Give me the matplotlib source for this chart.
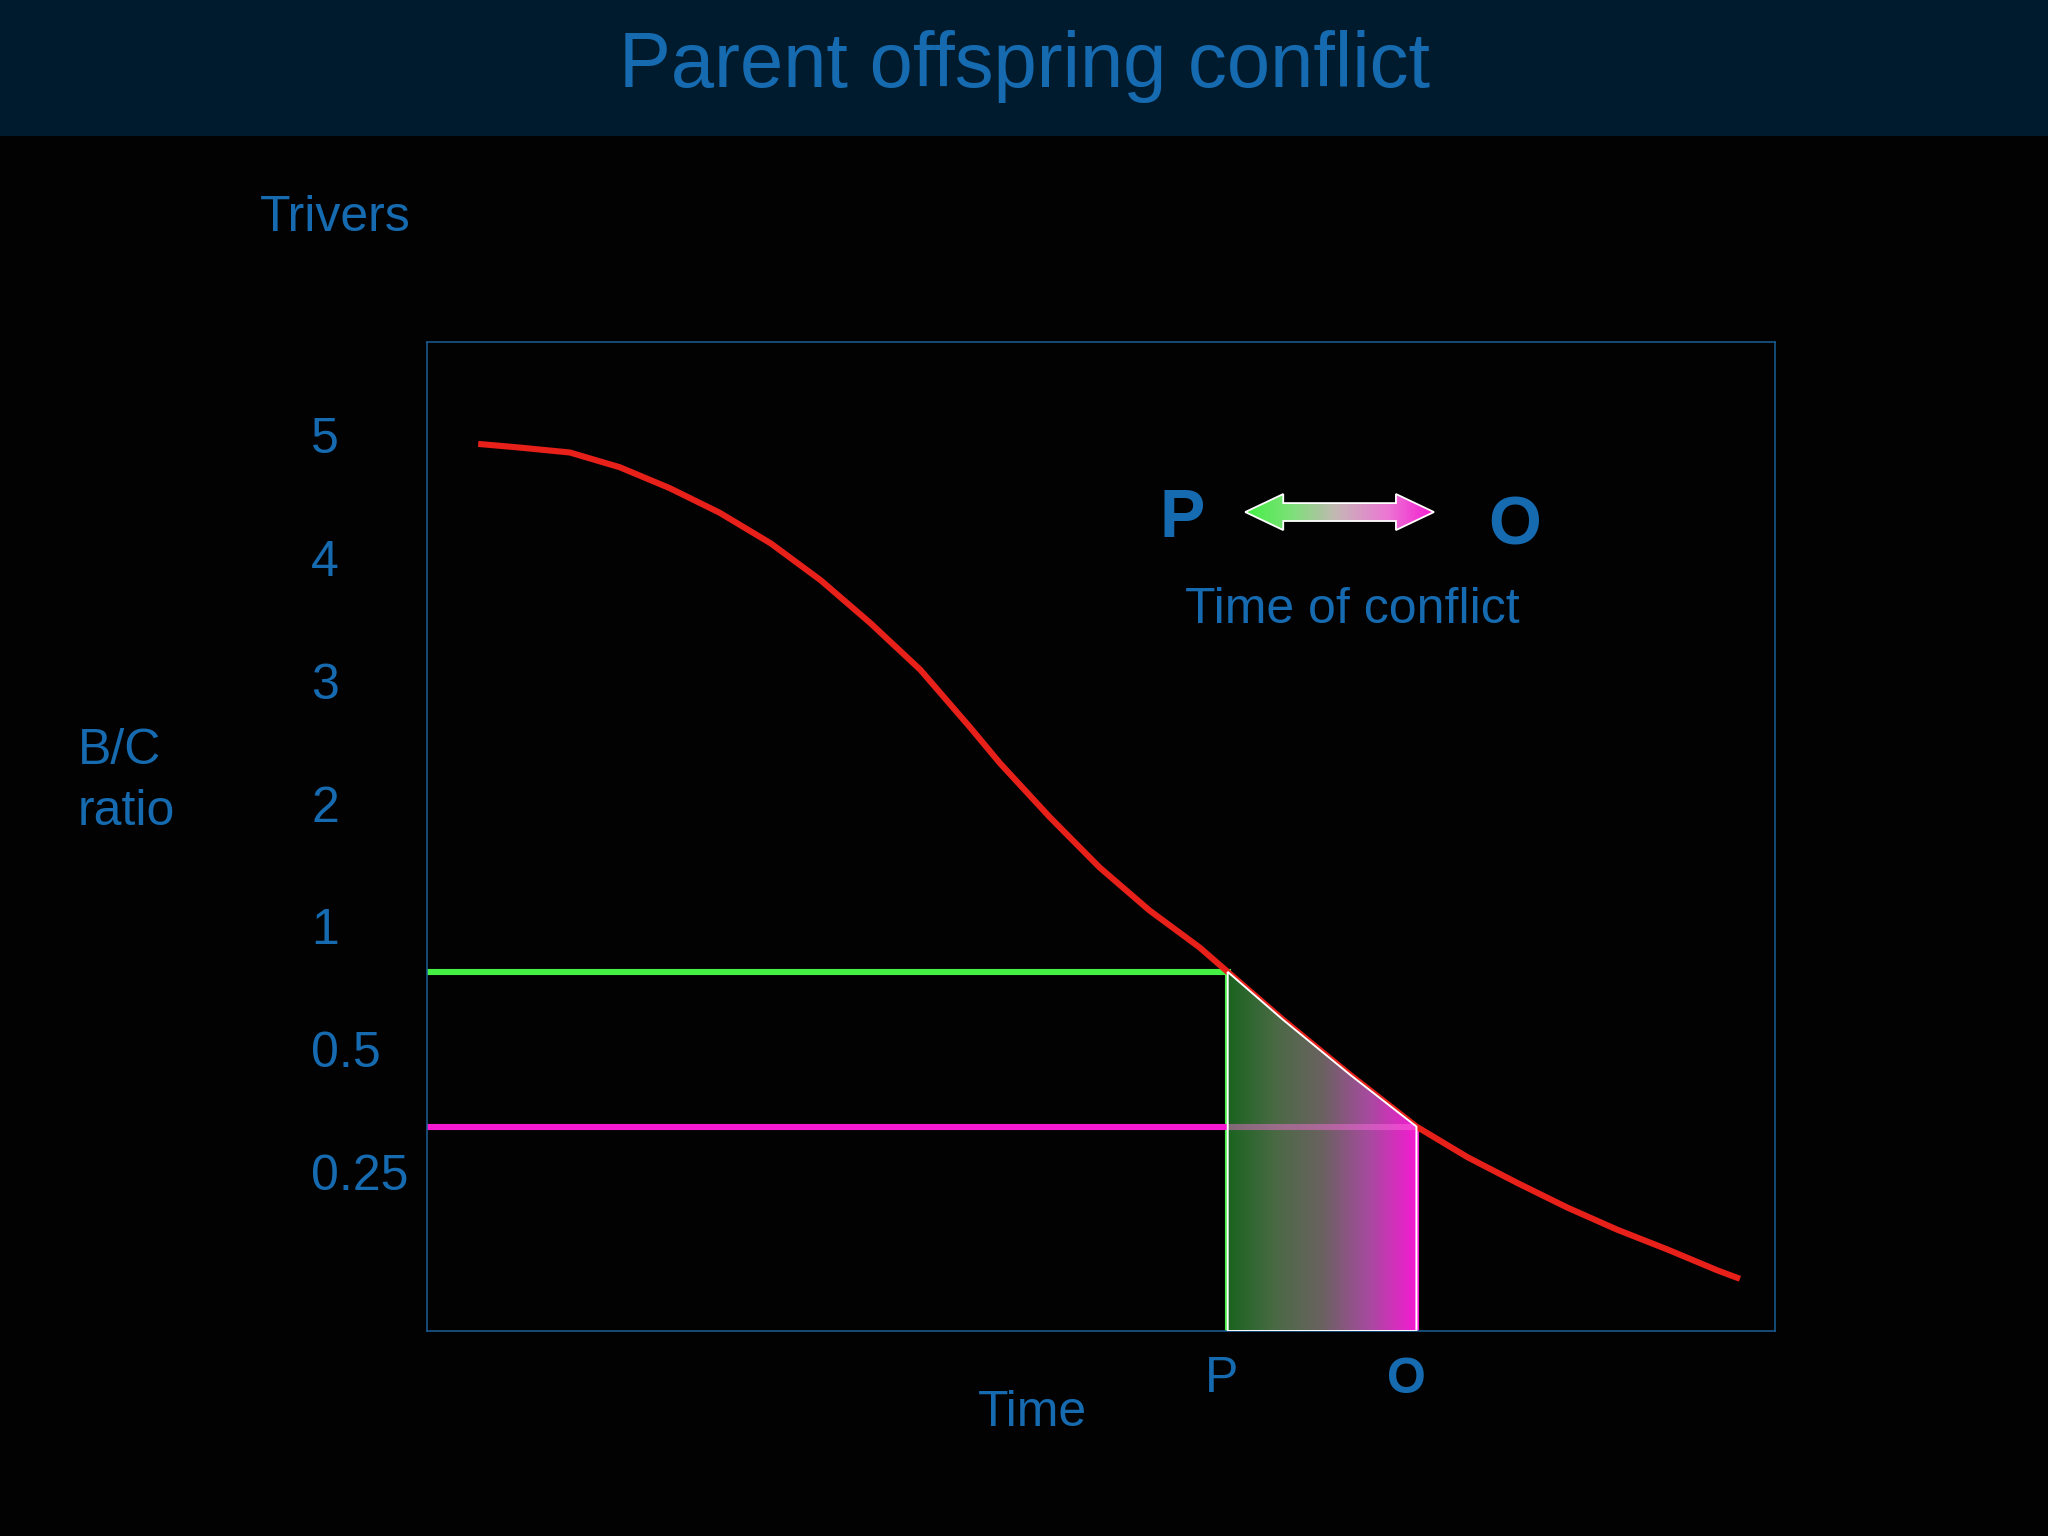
import numpy as np
import matplotlib.pyplot as plt
import matplotlib.transforms as mtransforms
from matplotlib.patches import Polygon, Rectangle
from matplotlib.colors import LinearSegmentedColormap

plt.rcParams['font.family'] = ['Liberation Sans', 'DejaVu Sans']

# B/C ratio curve, x = time (0-100 across the box), y = tick level
time = [3.8, 6.9, 10.6, 14.3, 18.0, 21.7, 25.5, 29.2, 32.9, 36.6, 40.3, 42.5,
        46.2, 49.9, 53.6, 57.3, 59.4, 63.5, 68.5, 73.4, 77.2, 80.9, 84.6, 88.3,
        92.0, 95.7, 97.4]
bc_level = [6.93, 6.90, 6.86, 6.74, 6.57, 6.37, 6.12, 5.82, 5.47, 5.09, 4.62, 4.33,
            3.89, 3.48, 3.13, 2.83, 2.63, 2.24, 1.79, 1.37, 1.12, 0.91, 0.71, 0.53,
            0.37, 0.20, 0.13]

tick_labels = ['0.25', '0.5', '1', '2', '3', '4', '5']
tick_levels = [1, 2, 3, 4, 5, 6, 7]

parent_time, parent_level = 59.4, 2.63
offspring_time, offspring_level = 73.4, 1.37

BLUE = '#166bb0'
RED = '#e8201a'
GREEN = '#44f044'
MAGENTA = '#f51ad2'

W, H = 2048, 1536
fig = plt.figure(figsize=(W / 100, H / 100), dpi=100, facecolor='#020203')


def fx(px):
    return px / W


def fy(py):
    return 1 - py / H


# header band
fig.add_artist(Rectangle((0, fy(136)), 1, 136 / H, transform=fig.transFigure,
                         facecolor='#011b2e', edgecolor='none', zorder=0))
fig.text(fx(1025), fy(87), 'Parent offspring conflict', ha='center', va='baseline',
         fontsize=56, color=BLUE)

ax = fig.add_axes([fx(427), fy(1331), 1348 / W, 989 / H])
ax.set_facecolor('#020203')
ymin, ymax = -0.295, 7.76
ax.set_xticks([])
ax.set_yticks([])
for s in ax.spines.values():
    s.set_color('#1a5e98')
    s.set_linewidth(1.1)

lw = 4.4
# parent / offspring threshold lines
ax.plot([0, parent_time, parent_time], [parent_level, parent_level, ymin],
        color=GREEN, lw=lw, solid_joinstyle='miter', solid_capstyle='butt', zorder=2)
ax.plot([0, parent_time], [offspring_level, offspring_level],
        color=MAGENTA, lw=lw, solid_capstyle='butt', zorder=2)
ax.plot([offspring_time, offspring_time], [ymin, offspring_level],
        color=MAGENTA, lw=lw, solid_capstyle='butt', zorder=2)

# red B/C curve
ax.plot(time, bc_level, color=RED, lw=lw, solid_capstyle='butt',
        solid_joinstyle='round', zorder=3)

# gradient region between P and O
t = np.array(time)
b = np.array(bc_level)
inside = (t > parent_time) & (t < offspring_time)
poly_pts = ([(parent_time, ymin), (parent_time, parent_level)]
            + list(zip(t[inside], b[inside]))
            + [(offspring_time, offspring_level), (offspring_time, ymin)])
region = Polygon(poly_pts, closed=True, facecolor='none', edgecolor='white',
                 lw=1.4, zorder=5)
ax.add_patch(region)
cmap_fill = LinearSegmentedColormap.from_list(
    'fill', ['#1a6420', '#4a6a44', '#6a6260', '#a84aa0', MAGENTA])
grad = np.linspace(0, 1, 256).reshape(1, -1)
im = ax.imshow(grad, cmap=cmap_fill, aspect='auto', origin='lower',
               extent=[parent_time, offspring_time, ymin, parent_level], zorder=4)
im.set_clip_path(region)
ax.plot([parent_time, offspring_time], [offspring_level, offspring_level],
        color='#ff70e0', lw=lw, alpha=0.45, solid_capstyle='butt', zorder=4.5)

# double-headed gradient arrow P <-> O
x0, x1, yc = 60.7, 74.7, 6.375
hl, hh, bh = 2.82, 0.147, 0.073
arrow_pts = [(x0, yc), (x0 + hl, yc + hh), (x0 + hl, yc + bh), (x1 - hl, yc + bh),
             (x1 - hl, yc + hh), (x1, yc), (x1 - hl, yc - hh), (x1 - hl, yc - bh),
             (x0 + hl, yc - bh), (x0 + hl, yc - hh)]
arrow = Polygon(arrow_pts, closed=True, facecolor='none', edgecolor='white',
                lw=1.3, zorder=6)
ax.add_patch(arrow)
cmap_arrow = LinearSegmentedColormap.from_list(
    'arrow', [GREEN, '#7ee07a', '#c8b4b8', '#ec78d4', MAGENTA])
im2 = ax.imshow(grad, cmap=cmap_arrow, aspect='auto', origin='lower',
                extent=[x0, x1, yc - hh, yc + hh], zorder=5.5)
im2.set_clip_path(arrow)
ax.set_xlim(0, 100)
ax.set_ylim(ymin, ymax)

# y tick labels
tick_tr = mtransforms.blended_transform_factory(fig.transFigure, ax.transData) + \
    mtransforms.ScaledTranslation(0, -0.18, fig.dpi_scale_trans)
for lev, lab in zip(tick_levels, tick_labels):
    fig.text(fx(311), lev, lab, transform=tick_tr, ha='left', va='baseline',
             fontsize=36, color=BLUE)

fig.text(fx(260), fy(231), 'Trivers', ha='left', va='baseline', fontsize=36, color=BLUE)
fig.text(fx(78), fy(764), 'B/C', ha='left', va='baseline', fontsize=36, color=BLUE)
fig.text(fx(78), fy(825), 'ratio', ha='left', va='baseline', fontsize=36, color=BLUE)

fig.text(fx(1182), fy(537), 'P', ha='center', va='baseline', fontsize=49,
         fontweight='bold', color=BLUE)
fig.text(fx(1515), fy(544), 'O', ha='center', va='baseline', fontsize=49,
         fontweight='bold', color=BLUE)
fig.text(fx(1352), fy(623), 'Time of conflict', ha='center', va='baseline',
         fontsize=36, color=BLUE)

fig.text(fx(1032), fy(1426), 'Time', ha='center', va='baseline', fontsize=36, color=BLUE)
fig.text(fx(1222), fy(1392), 'P', ha='center', va='baseline', fontsize=36, color=BLUE)
fig.text(fx(1406), fy(1393), 'O', ha='center', va='baseline', fontsize=36,
         fontweight='bold', color=BLUE)

fig.savefig('out.png', dpi=100, facecolor=fig.get_facecolor())
